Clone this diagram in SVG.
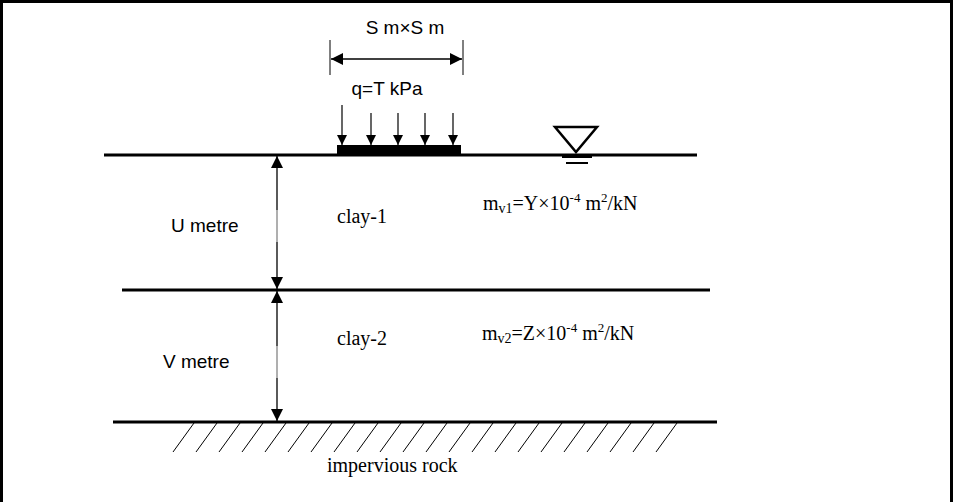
<svg xmlns="http://www.w3.org/2000/svg" width="954" height="502" viewBox="0 0 954 502">
<style>
.s{font-family:"Liberation Sans",Arial,sans-serif;font-size:19px;fill:#000}
.t{font-family:"Liberation Serif","Times New Roman",serif;font-size:20px;fill:#000}
.g{stroke:#000;stroke-width:3;fill:none}
.h{stroke:#000;stroke-width:1;fill:none}
</style>
<defs>
<marker id="a" viewBox="0 0 10 10" refX="10" refY="5" markerWidth="10" markerHeight="10" markerUnits="userSpaceOnUse" orient="auto-start-reverse"><path d="M0,0L10,5L0,10z" fill="#000"/></marker>
<marker id="b" viewBox="0 0 12 12" refX="12" refY="6" markerWidth="12" markerHeight="12" markerUnits="userSpaceOnUse" orient="auto-start-reverse"><path d="M0,0L12,6L0,12z" fill="#000"/></marker>
</defs>
<rect x="1.5" y="1.5" width="950" height="510" fill="#fff" stroke="#000" stroke-width="3"/>
<g id="ground">
<line class="g" x1="104" y1="155" x2="697" y2="155"/>
<line class="g" x1="122" y1="290" x2="710" y2="290"/>
<line class="g" x1="113" y1="422" x2="717" y2="422"/>
<path class="h" d="M173,452l21,-29M196,452l21,-29M219,452l21,-29M242,452l21,-29M265,452l21,-29M288,452l21,-29M311,452l21,-29M334,452l21,-29M357,452l21,-29M380,452l21,-29M403,452l21,-29M426,452l21,-29M449,452l21,-29M472,452l21,-29M495,452l21,-29M518,452l21,-29M541,452l21,-29M564,452l21,-29M587,452l21,-29M610,452l21,-29M633,452l21,-29M656,452l21,-29"/>
</g>
<g id="footing">
<rect x="337" y="145" width="124" height="10" fill="#000"/>
<line x1="320" y1="155" x2="482" y2="155" stroke="#000" stroke-width="2"/>
</g>
<g id="water">
<path d="M555,127H597L576,152Z" fill="#fff" stroke="#000" stroke-width="2.5"/>
<line x1="562" y1="157" x2="592" y2="157" stroke="#000" stroke-width="2"/>
<line x1="566" y1="163" x2="588" y2="163" stroke="#000" stroke-width="2"/>
</g>
<g id="connectors">
<line x1="330" y1="40" x2="330" y2="75" class="h"/>
<line x1="463" y1="40" x2="463" y2="75" class="h"/>
<line x1="331" y1="59" x2="462" y2="59" stroke="#000" stroke-width="1.5" marker-start="url(#b)" marker-end="url(#b)"/>
<g stroke="#000" stroke-width="1.2" marker-end="url(#a)">
<line x1="342" y1="105" x2="342" y2="145"/>
<line x1="371" y1="113" x2="371" y2="145"/>
<line x1="398" y1="113" x2="398" y2="145"/>
<line x1="425" y1="113" x2="425" y2="145"/>
<line x1="453" y1="113" x2="453" y2="145"/>
</g>
<line x1="277" y1="156" x2="277" y2="289" stroke="#000" stroke-width="1.3" marker-start="url(#b)" marker-end="url(#b)"/>
<line x1="277" y1="291" x2="277" y2="421" stroke="#000" stroke-width="1.3" marker-start="url(#b)" marker-end="url(#b)"/>
<line x1="277" y1="210" x2="277" y2="242" stroke="#ccc" stroke-width="1.5"/>
<line x1="277" y1="346" x2="277" y2="378" stroke="#ccc" stroke-width="1.5"/>
</g>
<g id="labels">
<text class="s" x="405" y="34" text-anchor="middle">S m×S m</text>
<text class="s" x="387" y="95" text-anchor="middle">q=T kPa</text>
<text class="s" x="171" y="232">U metre</text>
<text class="s" x="163" y="368">V metre</text>
<text class="t" x="337" y="223">clay-1</text>
<text class="t" x="337" y="345">clay-2</text>
<text class="t" x="483" y="210">m<tspan font-size="14" dy="3">v1</tspan><tspan dy="-3">=Y×10</tspan><tspan font-size="13" dy="-8">-4</tspan><tspan dy="8"> m</tspan><tspan font-size="13" dy="-8">2</tspan><tspan dy="8">/kN</tspan></text>
<text class="t" x="482" y="340">m<tspan font-size="14" dy="3">v2</tspan><tspan dy="-3">=Z×10</tspan><tspan font-size="13" dy="-8">-4</tspan><tspan dy="8"> m</tspan><tspan font-size="13" dy="-8">2</tspan><tspan dy="8">/kN</tspan></text>
<text class="t" x="327" y="472">impervious rock</text>
</g>
</svg>
